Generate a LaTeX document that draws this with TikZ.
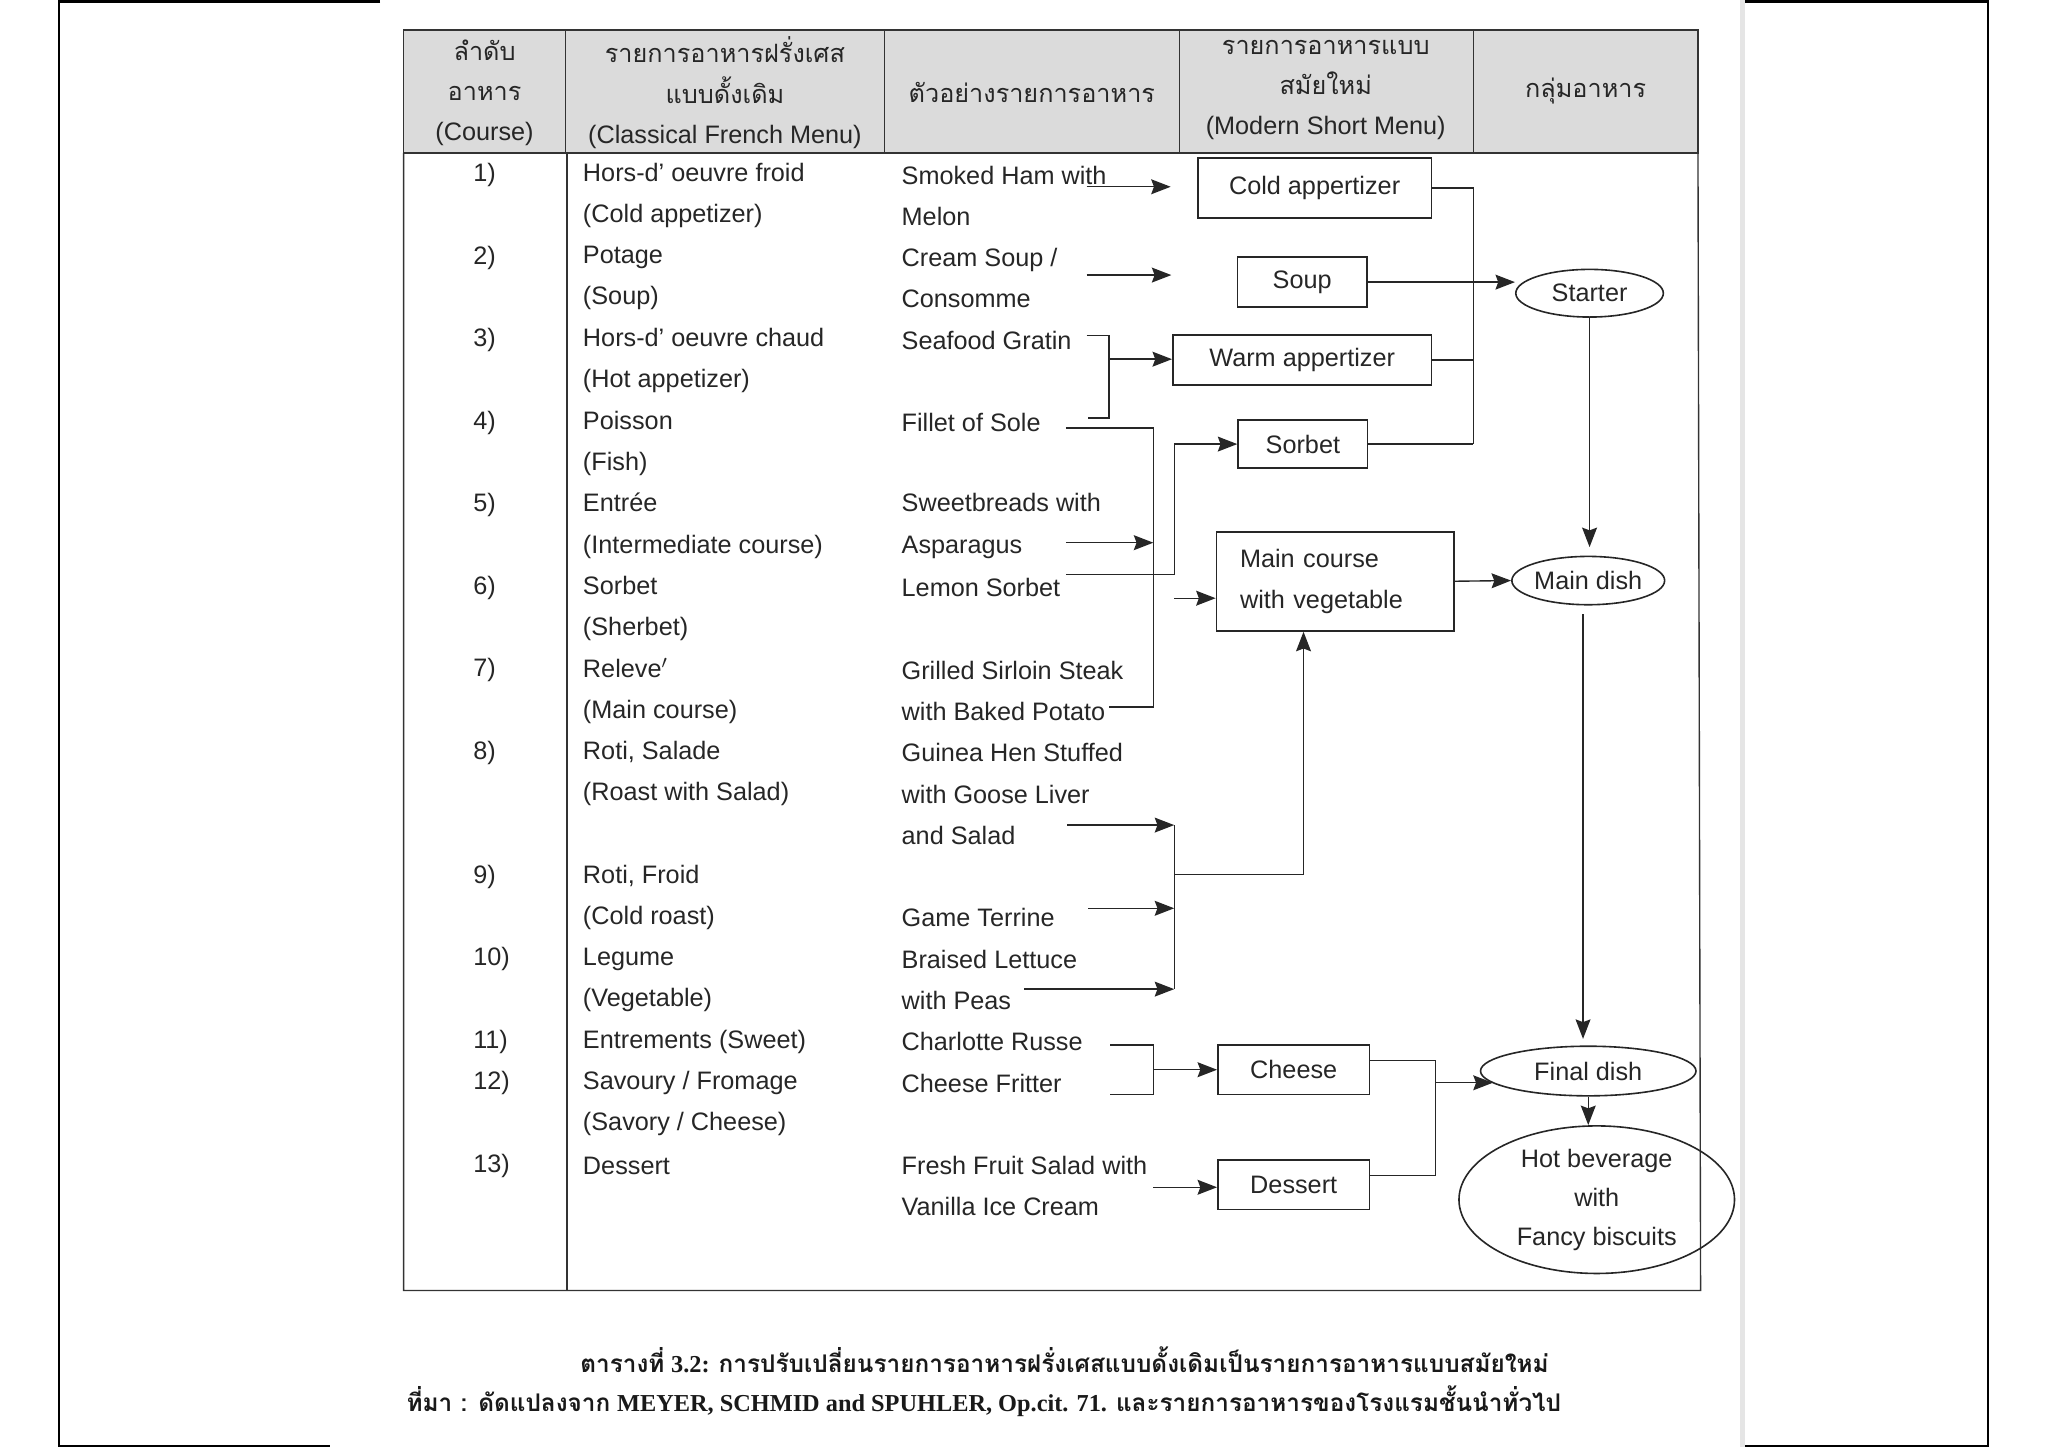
\documentclass[tikz,border=0pt]{standalone}
\usepackage{fontspec}
\setmainfont{Liberation Sans}
\newfontfamily\thaifont[Script=Thai]{Loma}
\newfontfamily\capserif{Liberation Serif}
\usepackage{tikz}
\usetikzlibrary{shapes.geometric, arrows.meta, positioning}
\tikzstyle{head} = [align=center, inner sep=0pt, font=\fontsize{11}{17.5}\selectfont, text=black!85]
\tikzstyle{num} = [anchor=west, inner sep=0pt, font=\fontsize{11}{18}\selectfont, text=black!85]
\tikzstyle{item} = [anchor=west, align=left, inner sep=0pt, font=\fontsize{11}{18}\selectfont, text=black!85]
\tikzstyle{menu} = [rectangle, draw=black!85, line width=0.8pt, inner sep=0pt, font=\fontsize{11}{18}\selectfont, text=black!85]
\tikzstyle{group} = [ellipse, draw=black!85, line width=0.7pt, inner sep=0pt, align=center, font=\fontsize{11}{18}\selectfont, text=black!85]
\tikzstyle{arrow} = [line width=0.6pt, draw=black!85, -{Stealth[length=8.5pt, width=6.5pt, inset=1.2pt]}]
\tikzstyle{wire} = [line width=0.6pt, draw=black!85]
\tikzstyle{grid} = [line width=0.6pt, draw=black!80]
\tikzstyle{frame} = [line width=1.1pt, draw=black]
\tikzstyle{caption} = [inner sep=0pt, font=\bfseries\fontsize{10.6}{13}\selectfont, text=black!90]

\begin{document}
\begin{tikzpicture}[x=0.02cm, y=-0.02cm]
\useasboundingbox (0,0) rectangle (1568,1108);

% page edges
\draw [frame] (291,1) -- (45,1) -- (45,1107) -- (253,1107);
\draw [frame] (1334,1) -- (1522,1) -- (1522,1107) -- (1334,1107);
\draw [black!10, line width=2pt] (1334,0) -- (1334,1108);

% table frame
\fill [black!14] (309,23) rectangle (1300,117);
\draw [grid] (309,23) rectangle (1300,117);
\draw [grid] (433,23) -- (433,117);
\draw [grid] (677,23) -- (677,117);
\draw [grid] (903,23) -- (903,117);
\draw [grid] (1128,23) -- (1128,117);
\draw [grid] (309,117) -- (309,988) -- (1302,988) -- (1300,117);
\draw [grid] (434,117) -- (434,988);

\node (h1) [head] at (371,71) {{\thaifont ลำดับ}\\{\thaifont อาหาร}\\(Course)};
\node (h2) [head] at (555,71) {{\thaifont รายการอาหารฝรั่งเศส}\\{\thaifont แบบดั้งเดิม}\\(Classical French Menu)};
\node (h3) [head] at (790,71) {\thaifont ตัวอย่างรายการอาหาร};
\node (h4) [head] at (1015,69) {{\thaifont รายการอาหารแบบ}\\{\thaifont สมัยใหม่}\\(Modern Short Menu)};
\node (h5) [head] at (1214,70) {\thaifont กลุ่มอาหาร};

% course numbers
\node (n1) [num] at (362,134) {1)};
\node (n2) [num] at (362,197.2) {2)};
\node (n3) [num] at (362,260.4) {3)};
\node (n4) [num] at (362,323.6) {4)};
\node (n5) [num] at (362,386.8) {5)};
\node (n6) [num] at (362,450) {6)};
\node (n7) [num] at (362,513.2) {7)};
\node (n8) [num] at (362,576.4) {8)};
\node (n9) [num] at (362,671.2) {9)};
\node (n10) [num] at (362,734.4) {10)};
\node (n11) [num] at (362,797.6) {11)};
\node (n12) [num] at (362,829.2) {12)};
\node (n13) [num] at (362,892.4) {13)};

% classical french menu
\node (fr1) [item] at (446,149.8) {Hors-d' oeuvre froid\\(Cold appetizer)};
\node (fr2) [item] at (446,213) {Potage\\(Soup)};
\node (fr3) [item] at (446,276.2) {Hors-d' oeuvre chaud\\(Hot appetizer)};
\node (fr4) [item] at (446,339.4) {Poisson\\(Fish)};
\node (fr5) [item] at (446,402.6) {Entrée\\(Intermediate course)};
\node (fr6) [item] at (446,465.8) {Sorbet\\(Sherbet)};
\node (fr7) [item] at (446,529) {Releve$^\prime$\\(Main course)};
\node (fr8) [item] at (446,592.2) {Roti, Salade\\(Roast with Salad)};
\node (fr9) [item] at (446,687) {Roti, Froid\\(Cold roast)};
\node (fr10) [item] at (446,750.2) {Legume\\(Vegetable)};
\node (fr11) [item] at (446,797.6) {Entrements (Sweet)};
\node (fr12) [item] at (446,845) {Savoury / Fromage\\(Savory / Cheese)};
\node (fr13) [item] at (446,892.4) {Dessert};

% example dishes
\node (ex1) [item] at (690,149.8) {Smoked Ham with\\Melon};
\node (ex2) [item] at (690,213) {Cream Soup /\\Consomme};
\node (ex3) [item] at (690,260.4) {Seafood Gratin};
\node (ex4) [item] at (690,323.6) {Fillet of Sole};
\node (ex5) [item] at (690,402.6) {Sweetbreads with\\Asparagus};
\node (ex6) [item] at (690,450) {Lemon Sorbet};
\node (ex7) [item] at (690,529) {Grilled Sirloin Steak\\with Baked Potato};
\node (ex8) [item] at (690,608) {Guinea Hen Stuffed\\with Goose Liver\\and Salad};
\node (ex9) [item] at (690,702.8) {Game Terrine};
\node (ex10) [item] at (690,750.2) {Braised Lettuce\\with Peas};
\node (ex11) [item] at (690,797.6) {Charlotte Russe};
\node (ex12) [item] at (690,829.2) {Cheese Fritter};
\node (ex13) [item] at (690,908.2) {Fresh Fruit Salad with\\Vanilla Ice Cream};

% modern short menu
\node (cold) [menu, minimum width=3.58cm, minimum height=0.92cm] at (1006.5,144) {Cold appertizer};
\node (soup) [menu, minimum width=1.98cm, minimum height=0.76cm] at (997,216) {Soup};
\node (warm) [menu, minimum width=3.96cm, minimum height=0.77cm] at (997,275.5) {Warm appertizer};
\node (sorbet) [menu, minimum width=1.98cm, minimum height=0.74cm] at (997.5,340) {Sorbet};
\node (main) [menu, minimum height=1.52cm, text width=2.92cm, inner xsep=0.36cm, align=left] at (1022.4,445) {Main course\\with vegetable};
\node (cheese) [menu, minimum width=2.32cm, minimum height=0.76cm] at (990.5,819) {Cheese};
\node (dessert) [menu, minimum width=2.32cm, minimum height=0.76cm] at (990.5,907) {Dessert};

% food groups
\node (starter) [group, minimum width=2.26cm, minimum height=0.73cm] at (1217,224.5) {Starter};
\node (maindish) [group, minimum width=2.28cm, minimum height=0.74cm] at (1216,444.5) {Main dish};
\node (final) [group, minimum width=3.3cm, minimum height=0.76cm] at (1216,820) {Final dish};
\node (hotbev) [group, minimum width=4.22cm, minimum height=2.26cm, font=\fontsize{11}{17}\selectfont] at (1222.5,918.5) {Hot beverage\\with\\Fancy biscuits};

\coordinate (ham) at (832,143);
\coordinate (cream) at (832,210.6);
\coordinate (gratin) at (832,257);
\coordinate (sole) at (833,320);
\coordinate (brk1) at (849,275);
\coordinate (sweet) at (816,327.7);
\coordinate (aspa) at (816,415.5);
\coordinate (brk2) at (883,415.5);
\coordinate (potato) at (849,541.3);
\coordinate (lemon) at (816,440);
\coordinate (jsorb) at (899,340);
\coordinate (jmain) at (899,458);
\coordinate (salad) at (817,631.7);
\coordinate (terrine) at (833,695.4);
\coordinate (peas) at (784,757.3);
\coordinate (s1) at (899,631.7);
\coordinate (s2) at (899,695.4);
\coordinate (s3) at (899,757.3);
\coordinate (brk3) at (899,669.3);
\coordinate (jup) at (998,669.3);
\coordinate (bus) at (1128,340);
\coordinate (charl) at (850,800);
\coordinate (fritter) at (850,838);
\coordinate (brk4) at (883,819);
\coordinate (fruit) at (883,909);
\coordinate (fb1) at (1099,812);
\coordinate (fb2) at (1099,900);
\coordinate (fb3) at (1099,829);

\draw [arrow, shorten >=0.4cm] (ham) -- (ham -| cold.west);
\draw [arrow, shorten >=1cm] (cream) -- (cream -| soup.west);
\draw [wire] (gratin) -| (brk1) |- (sole);
\draw [arrow] (brk1) -- (brk1 -| warm.west);
\draw [wire] (sweet) -| (brk2) |- (potato);
\draw [arrow] (aspa) -- (brk2);
\draw [arrow] (lemon) -| (jsorb) -- (jsorb -| sorbet.west);
\draw [arrow] (jmain) -- (jmain -| main.west);
\draw [arrow] (salad) -- (s1);
\draw [arrow] (terrine) -- (s2);
\draw [arrow] (peas) -- (s3);
\draw [wire] (s1) -- (s3);
\draw [arrow] (brk3) -| (jup |- main.south);

\draw [wire] (cold.east) -| (bus);
\draw [wire] (warm.east) -- (warm.east -| bus);
\draw [wire] (sorbet.east) -- (bus);
\draw [arrow] (soup.east) -- (soup.east -| starter.west);
\draw [arrow, shorten >=0.13cm] (starter.south) -- (starter.south |- maindish.north);
\draw [arrow] (main.east) -- (maindish.west);
\draw [arrow, shorten <=0.13cm, shorten >=0.1cm] ([xshift=-0.08cm]maindish.south) -- ([xshift=-0.08cm]final.north);

\draw [wire] (charl) -| (brk4) |- (fritter);
\draw [arrow] (brk4) -- (brk4 -| cheese.west);
\draw [arrow] (fruit) -- (fruit -| dessert.west);
\draw [wire] (cheese.east |- fb1) -- (fb1) -- (fb2) -- (fb2 -| dessert.east);
\draw [arrow, shorten >=-0.2cm] (fb3) -- (fb3 -| final.west);
\draw [arrow] (final.south) -- (final.south |- hotbev.north);

% caption
\node (cap1) [caption] at (815,1041) {{\thaifont ตารางที่} {\capserif 3.2:} {\thaifont การปรับเปลี่ยนรายการอาหารฝรั่งเศสแบบดั้งเดิมเป็นรายการอาหารแบบสมัยใหม่}};
\node (cap2) [caption, anchor=west] at (311,1073) {{\thaifont ที่มา : ดัดแปลงจาก} {\capserif MEYER, SCHMID and SPUHLER, Op.cit. 71.} {\thaifont และรายการอาหารของโรงแรมชั้นนำทั่วไป}};
\end{tikzpicture}
\end{document}
